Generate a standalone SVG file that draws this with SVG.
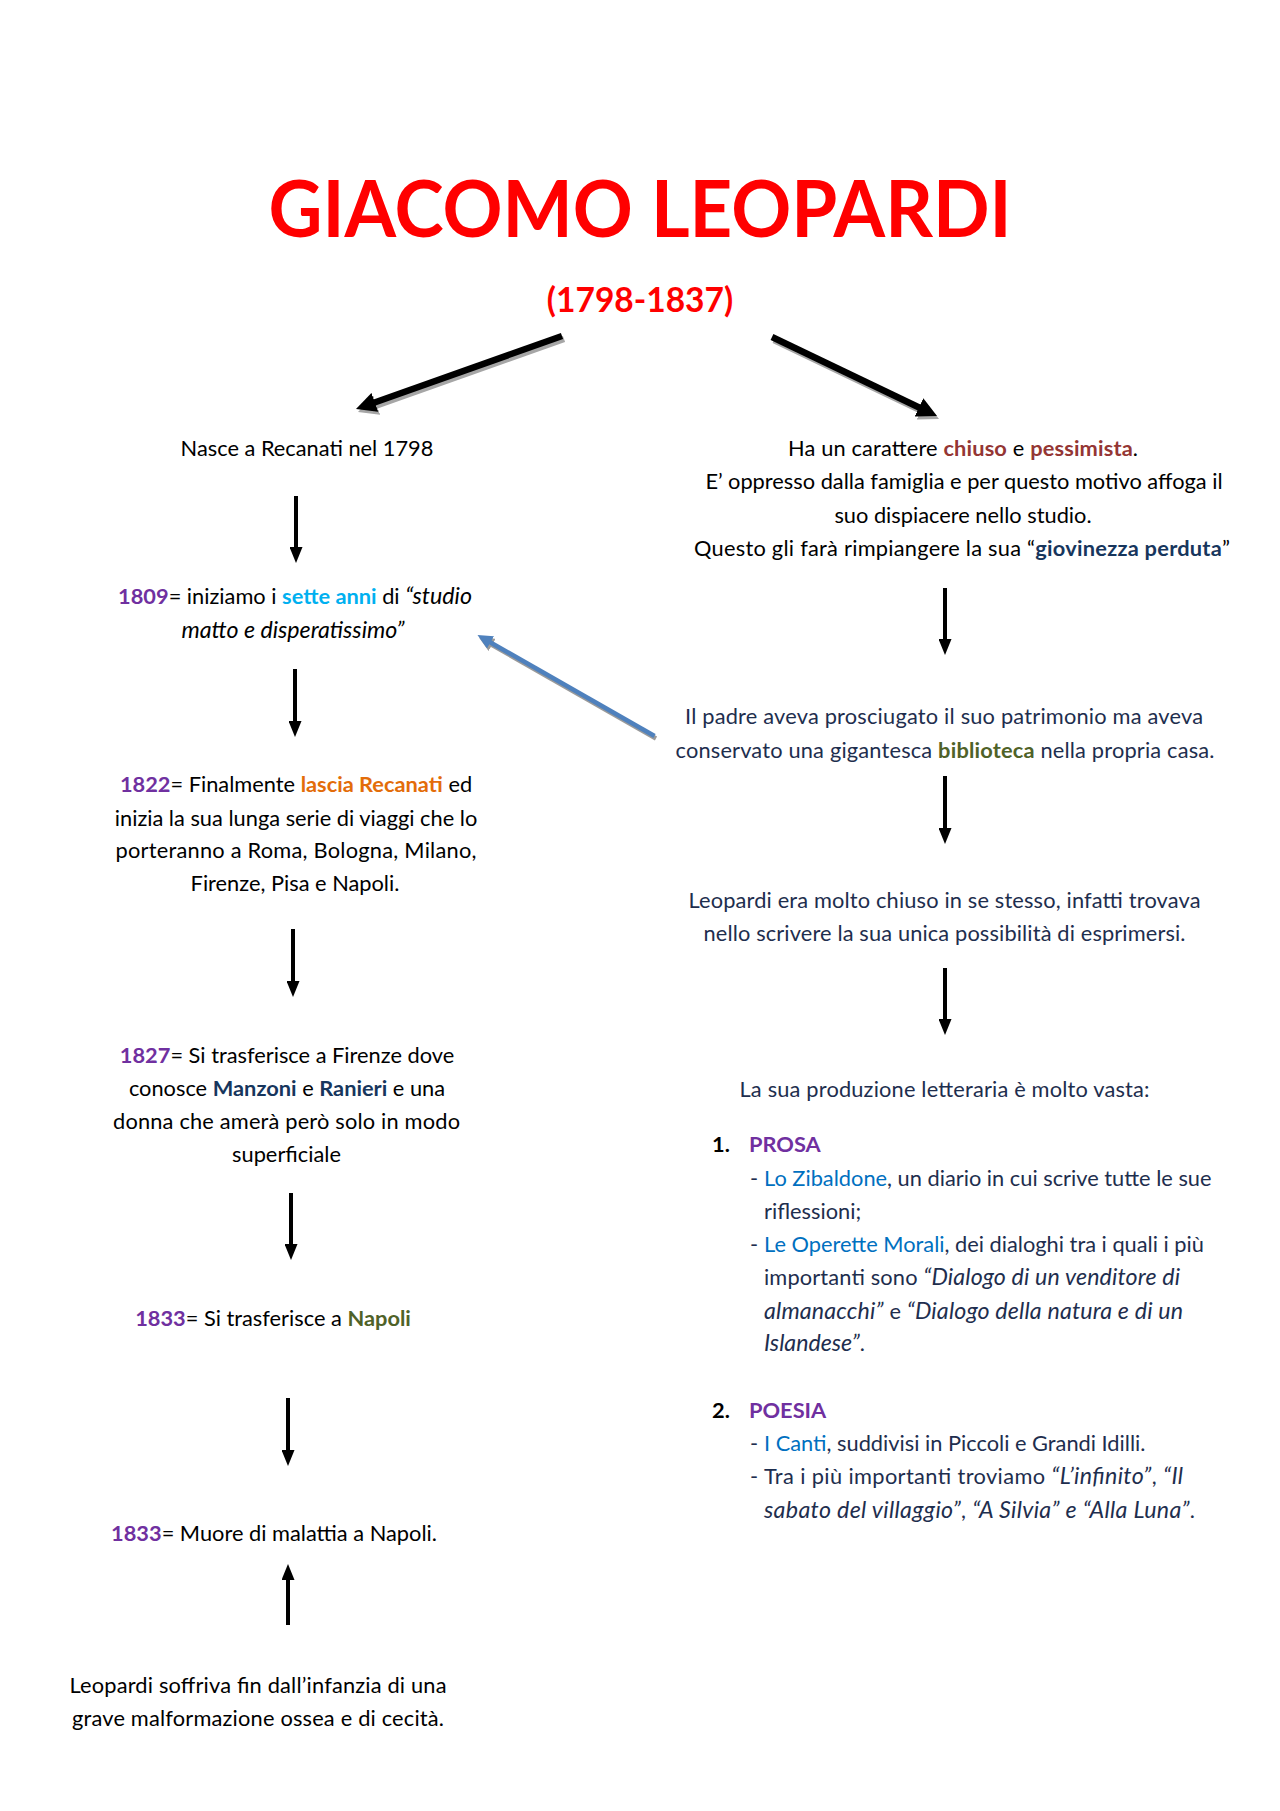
<svg xmlns="http://www.w3.org/2000/svg" width="1280" height="1811" viewBox="0 0 1280 1811">
<defs>
<style>
text{font-family:Lato,"Liberation Sans",sans-serif;font-size:21.8px;fill:#000}
.c{text-anchor:middle}
.nv{fill:#1E2E4E}
.b{font-weight:bold}
.i{font-style:italic;font-size:23.2px}
.yr{fill:#7030A0;font-weight:bold}
.red{fill:#943634;font-weight:bold}
.dk{fill:#17365D;font-weight:bold}
.grn{fill:#4F6228;font-weight:bold}
.cy{fill:#00B0F0;font-weight:bold}
.or{fill:#E36C09;font-weight:bold}
.bl{fill:#0070C0}
.ttl{fill:#FF0000;font-weight:bold;font-size:78px}
.sub{fill:#FF0000;font-weight:bold;font-size:33.5px}
.arr{stroke:#000;stroke-width:4;fill:none}
.big{stroke:#000;stroke-width:6.5;fill:none}
.bigs{stroke:#A6A6A6;stroke-width:6.5;fill:none}
.blue{stroke:#4F81BD;stroke-width:4.5;fill:none}
.blues{stroke:#9A9A9A;stroke-width:4.5;fill:none}
</style>
<marker id="h" markerUnits="userSpaceOnUse" markerWidth="16" markerHeight="13" refX="8" refY="6.5" orient="auto"><path d="M0,0 L16,6.5 L0,13 z" fill="#000"/></marker>
<marker id="hb" markerUnits="userSpaceOnUse" markerWidth="20" markerHeight="20" refX="10" refY="10" orient="auto"><path d="M0,0 L20,10 L0,20 z" fill="#000"/></marker>
<marker id="hbs" markerUnits="userSpaceOnUse" markerWidth="20" markerHeight="20" refX="10" refY="10" orient="auto"><path d="M0,0 L20,10 L0,20 z" fill="#A6A6A6"/></marker>
<marker id="hbl" markerUnits="userSpaceOnUse" markerWidth="15" markerHeight="14" refX="7.5" refY="7" orient="auto"><path d="M0,0 L15,7 L0,14 z" fill="#4F81BD"/></marker>
<marker id="hbls" markerUnits="userSpaceOnUse" markerWidth="15" markerHeight="14" refX="7.5" refY="7" orient="auto"><path d="M0,0 L15,7 L0,14 z" fill="#9A9A9A"/></marker>
</defs>
<rect width="1280" height="1811" fill="#fff"/>

<g id="title">
<text class="c ttl" x="640" y="237" textLength="743" lengthAdjust="spacingAndGlyphs">GIACOMO LEOPARDI</text>
<text class="c sub" x="640" y="312">(1798-1837)</text>
</g>

<g id="connectors">
<line class="bigs" x1="564" y1="339" x2="367.4" y2="408.7" marker-end="url(#hbs)"/>
<line class="big" x1="562" y1="336" x2="365.4" y2="405.7" marker-end="url(#hb)"/>
<line class="bigs" x1="774" y1="340" x2="930" y2="414.7" marker-end="url(#hbs)"/>
<line class="big" x1="772" y1="337" x2="928" y2="411.7" marker-end="url(#hb)"/>
<line class="blues" x1="656" y1="738.5" x2="485.5" y2="641.2" marker-end="url(#hbls)"/>
<line class="blue" x1="654.5" y1="736" x2="484" y2="638.7" marker-end="url(#hbl)"/>
<line class="arr" x1="296" y1="496" x2="296" y2="555" marker-end="url(#h)"/>
<line class="arr" x1="295" y1="669" x2="295" y2="729" marker-end="url(#h)"/>
<line class="arr" x1="293" y1="929" x2="293" y2="989" marker-end="url(#h)"/>
<line class="arr" x1="291" y1="1193" x2="291" y2="1252" marker-end="url(#h)"/>
<line class="arr" x1="288" y1="1398" x2="288" y2="1458" marker-end="url(#h)"/>
<line class="arr" x1="288" y1="1625" x2="288" y2="1572" marker-end="url(#h)"/>
<line class="arr" x1="945" y1="588" x2="945" y2="647" marker-end="url(#h)"/>
<line class="arr" x1="945" y1="776" x2="945" y2="836" marker-end="url(#h)"/>
<line class="arr" x1="945" y1="968" x2="945" y2="1027" marker-end="url(#h)"/>
</g>

<g id="nasce">
<text class="c" x="307" y="456">Nasce a Recanati nel 1798</text>
</g>

<g id="carattere">
<text class="c" x="963" y="456" textLength="350">Ha un carattere <tspan class="red">chiuso</tspan> e <tspan class="red">pessimista</tspan>.</text>
<text class="c" x="964" y="489">E’ oppresso dalla famiglia e per questo motivo affoga il</text>
<text class="c" x="963" y="523">suo dispiacere nello studio.</text>
<text class="c" x="962" y="556" textLength="536">Questo gli farà rimpiangere la sua “<tspan class="dk">giovinezza perduta</tspan>”</text>
</g>

<g id="n1809">
<text class="c" x="295" y="604"><tspan class="yr">1809</tspan>= iniziamo i <tspan class="cy">sette anni</tspan> di <tspan class="i">“studio</tspan></text>
<text class="c i" x="293" y="638">matto e disperatissimo”</text>
</g>

<g id="padre">
<text class="c nv" x="944" y="724" textLength="518">Il padre aveva prosciugato il suo patrimonio ma aveva</text>
<text class="c nv" x="945" y="758" textLength="539">conservato una gigantesca <tspan class="grn">biblioteca</tspan> nella propria casa.</text>
</g>

<g id="n1822">
<text class="c" x="296" y="792"><tspan class="yr">1822</tspan>= Finalmente <tspan class="or">lascia Recanati</tspan> ed</text>
<text class="c" x="296" y="826">inizia la sua lunga serie di viaggi che lo</text>
<text class="c" x="296" y="858" textLength="361">porteranno a Roma, Bologna, Milano,</text>
<text class="c" x="295" y="891">Firenze, Pisa e Napoli.</text>
</g>

<g id="chiuso">
<text class="c nv" x="944.5" y="908" textLength="512">Leopardi era molto chiuso in se stesso, infatti trovava</text>
<text class="c nv" x="944.5" y="941" textLength="482">nello scrivere la sua unica possibilità di esprimersi.</text>
</g>

<g id="n1827">
<text class="c" x="287" y="1063"><tspan class="yr">1827</tspan>= Si trasferisce a Firenze dove</text>
<text class="c" x="287" y="1096">conosce <tspan class="dk">Manzoni</tspan> e <tspan class="dk">Ranieri</tspan> e una</text>
<text class="c" x="286.5" y="1129" textLength="347">donna che amerà però solo in modo</text>
<text class="c" x="286.5" y="1162">superficiale</text>
</g>

<g id="produzione">
<text class="c nv" x="944.5" y="1097" textLength="410">La sua produzione letteraria è molto vasta:</text>
<text class="b" x="712" y="1152">1.</text>
<text class="yr" x="749" y="1152">PROSA</text>
<text class="nv" x="750" y="1186">-</text>
<text class="nv" x="764" y="1186"><tspan class="bl">Lo Zibaldone</tspan>, un diario in cui scrive tutte le sue</text>
<text class="nv" x="764" y="1219">riflessioni;</text>
<text class="nv" x="750" y="1252">-</text>
<text class="nv" x="764" y="1252"><tspan class="bl">Le Operette Morali</tspan>, dei dialoghi tra i quali i più</text>
<text class="nv" x="764" y="1285" textLength="416">importanti sono <tspan class="i">“Dialogo di un venditore di</tspan></text>
<text class="nv" x="764" y="1319" textLength="419"><tspan class="i">almanacchi”</tspan> e <tspan class="i">“Dialogo della natura e di un</tspan></text>
<text class="nv" x="764" y="1351"><tspan class="i">Islandese”</tspan>.</text>
<text class="b" x="712" y="1418">2.</text>
<text class="yr" x="749" y="1418">POESIA</text>
<text class="nv" x="750" y="1451">-</text>
<text class="nv" x="764" y="1451"><tspan class="bl">I Canti</tspan>, suddivisi in Piccoli e Grandi Idilli.</text>
<text class="nv" x="750" y="1484">-</text>
<text class="nv" x="764" y="1484" textLength="419">Tra i più importanti troviamo <tspan class="i">“L’infinito”</tspan>, <tspan class="i">“Il</tspan></text>
<text class="nv" x="764" y="1518" textLength="431"><tspan class="i">sabato del villaggio”</tspan>, <tspan class="i">“A Silvia” e “Alla Luna”</tspan>.</text>
</g>

<g id="n1833a">
<text class="c" x="273" y="1326"><tspan class="yr">1833</tspan>= Si trasferisce a <tspan class="grn">Napoli</tspan></text>
</g>

<g id="n1833b">
<text class="c" x="274" y="1541"><tspan class="yr">1833</tspan>= Muore di malattia a Napoli.</text>
</g>

<g id="malformazione">
<text class="c" x="258" y="1693" textLength="377">Leopardi soffriva fin dall’infanzia di una</text>
<text class="c" x="258" y="1726" textLength="372">grave malformazione ossea e di cecità.</text>
</g>
</svg>
